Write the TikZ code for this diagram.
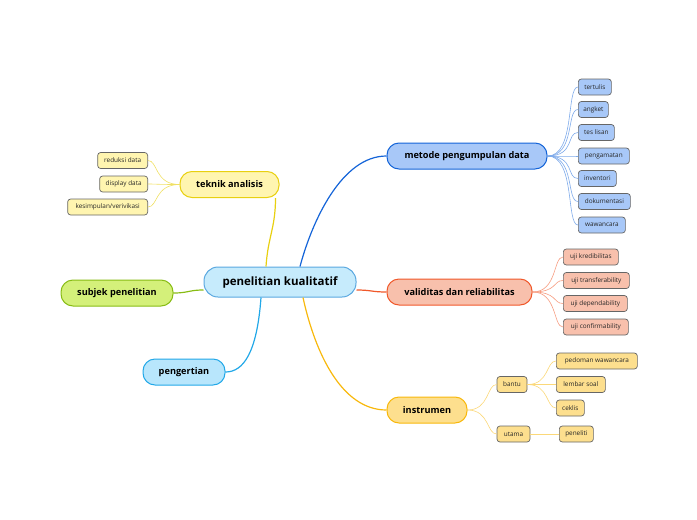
\documentclass[tikz,border=0pt]{standalone}
\usepackage{fontspec}
\setmainfont{Open Sans}
\begin{document}
\begin{tikzpicture}[x=1pt,y=-1pt,
    rama/.style={draw, line width=1pt, rounded corners=12pt, inner sep=0pt,
        minimum height=26pt, font=\fontsize{9.2}{10}\selectfont\bfseries},
    hoja/.style={draw=black!60, line width=0.7pt, rounded corners=3pt, inner sep=0pt,
        minimum height=16pt, text=black!85, font=\fontsize{6.4}{7}\selectfont},
    enlace/.style={line width=1.2pt},
    fino/.style={line width=0.6pt}]

    % Definir los colores
    \definecolor{azulF}{HTML}{A8C8F8}
    \definecolor{azulB}{HTML}{1464D8}
    \definecolor{naranjaF}{HTML}{F8C0AC}
    \definecolor{naranjaB}{HTML}{F0582A}
    \definecolor{ambarF}{HTML}{FDDF8E}
    \definecolor{ambarB}{HTML}{F8B80C}
    \definecolor{amarilloF}{HTML}{FFF5B0}
    \definecolor{amarilloB}{HTML}{E8D010}
    \definecolor{verdeF}{HTML}{D4F07A}
    \definecolor{verdeB}{HTML}{88BC14}
    \definecolor{celesteF}{HTML}{B8E6FC}
    \definecolor{celesteB}{HTML}{22A8E8}
    \definecolor{centroF}{HTML}{C6EBFC}
    \definecolor{centroB}{HTML}{5AA8E0}

    % Fijar el marco
    \useasboundingbox (0,0) rectangle (697,520);

    % Nodo central
    \node[rama, fill=centroF, draw=centroB, minimum width=152pt, minimum height=30pt,
        rounded corners=14pt, font=\fontsize{11.5}{13}\selectfont\bfseries]
        (central) at (280,282) {penelitian kualitatif};

    % Ramas principales
    \node[rama, fill=azulF, draw=azulB, minimum width=160pt] (metode) at (467,156) {metode pengumpulan data};
    \node[rama, fill=naranjaF, draw=naranjaB, minimum width=145pt] (validitas) at (459.5,292) {validitas dan reliabilitas};
    \node[rama, fill=ambarF, draw=ambarB, minimum width=80pt] (instrumen) at (427,410) {instrumen};
    \node[rama, fill=amarilloF, draw=amarilloB, minimum width=99pt] (teknik) at (229.5,184.5) {teknik analisis};
    \node[rama, fill=verdeF, draw=verdeB, minimum width=112pt] (subjek) at (117,293) {subjek penelitian};
    \node[rama, fill=celesteF, draw=celesteB, minimum width=82pt] (pengertian) at (184,372) {pengertian};

    % Hojas de metode pengumpulan data
    \node[hoja, fill=azulF, anchor=west, minimum width=33pt] (tertulis) at (578,87) {tertulis};
    \node[hoja, fill=azulF, anchor=west, minimum width=30pt] (angket) at (578,109.5) {angket};
    \node[hoja, fill=azulF, anchor=west, minimum width=36pt] (teslisan) at (578,132.5) {tes lisan};
    \node[hoja, fill=azulF, anchor=west, minimum width=51pt] (pengamatan) at (578,156) {pengamatan};
    \node[hoja, fill=azulF, anchor=west, minimum width=38pt] (inventori) at (578,178.5) {inventori};
    \node[hoja, fill=azulF, anchor=west, minimum width=52pt] (dokumentasi) at (578,201.5) {dokumentasi};
    \node[hoja, fill=azulF, anchor=west, minimum width=47pt] (wawancara) at (578,225) {wawancara};

    % Hojas de validitas dan reliabilitas
    \node[hoja, fill=naranjaF, anchor=west, minimum width=55pt] (kredibilitas) at (563,257) {uji kredibilitas};
    \node[hoja, fill=naranjaF, anchor=west, minimum width=66pt] (transfer) at (563,280.5) {uji transferability};
    \node[hoja, fill=naranjaF, anchor=west, minimum width=64pt] (dependa) at (563,303.5) {uji dependability};
    \node[hoja, fill=naranjaF, anchor=west, minimum width=65pt] (confirma) at (563,327) {uji confirmability};

    % Hojas de instrumen
    \node[hoja, fill=ambarF, minimum width=30pt] (bantu) at (512,384.5) {bantu};
    \node[hoja, fill=ambarF, minimum width=33pt] (utama) at (513.5,434) {utama};
    \node[hoja, fill=ambarF, anchor=west, minimum width=81pt] (pedoman) at (556,361) {pedoman wawancara};
    \node[hoja, fill=ambarF, anchor=west, minimum width=49pt] (lembar) at (556,384.5) {lembar soal};
    \node[hoja, fill=ambarF, anchor=west, minimum width=28pt] (ceklis) at (556,408) {ceklis};
    \node[hoja, fill=ambarF, anchor=west, minimum width=34pt] (peneliti) at (559,434) {peneliti};

    % Hojas de teknik analisis
    \node[hoja, fill=amarilloF, anchor=east, minimum width=50pt] (reduksi) at (148,160.5) {reduksi data};
    \node[hoja, fill=amarilloF, anchor=east, minimum width=48pt] (display) at (148,184) {display data};
    \node[hoja, fill=amarilloF, anchor=east, minimum width=80pt] (kesimpulan) at (148,207) {kesimpulan/verivikasi};

    % Enlaces del nodo central
    \draw[enlace, azulB] ([xshift=20]central.north) .. controls +(12,-45) and +(-45,0) .. (metode.west);
    \draw[enlace, naranjaB] ([yshift=-8]central.east) .. controls +(15,0) and +(-15,0) .. (validitas.west);
    \draw[enlace, ambarB] ([xshift=23]central.south) .. controls +(12,55) and +(-45,0) .. (instrumen.west);
    \draw[enlace, amarilloB] ([xshift=-14]central.north) .. controls +(2,-30) and +(0,30) .. ([xshift=-4]teknik.south east);
    \draw[enlace, verdeB] ([yshift=-8]central.west) .. controls +(-15,0) and +(15,0) .. (subjek.east);
    \draw[enlace, celesteB] ([xshift=-19]central.south) .. controls +(-4,55) and +(18,0) .. (pengertian.east);

    % Enlaces de las hojas
    \foreach \h in {tertulis,angket,teslisan,pengamatan,inventori,dokumentasi,wawancara}
        \draw[fino, azulB!55] (metode.east) .. controls +(28,0) and +(-12,0) .. (\h.west);
    \foreach \h in {kredibilitas,transfer,dependa,confirma}
        \draw[fino, naranjaB!60] (validitas.east) .. controls +(25,0) and +(-10,0) .. (\h.west);
    \foreach \h in {bantu,utama}
        \draw[fino, ambarB!55] (instrumen.east) .. controls +(22,0) and +(-10,0) .. (\h.west);
    \foreach \h in {pedoman,lembar,ceklis}
        \draw[fino, ambarB!55] (bantu.east) .. controls +(22,0) and +(-10,0) .. (\h.west);
    \draw[fino, ambarB!55] (utama.east) -- (peneliti.west);
    \foreach \h in {reduksi,display,kesimpulan}
        \draw[fino, amarilloB!65] (teknik.west) .. controls +(-25,0) and +(10,0) .. (\h.east);
\end{tikzpicture}
\end{document}
